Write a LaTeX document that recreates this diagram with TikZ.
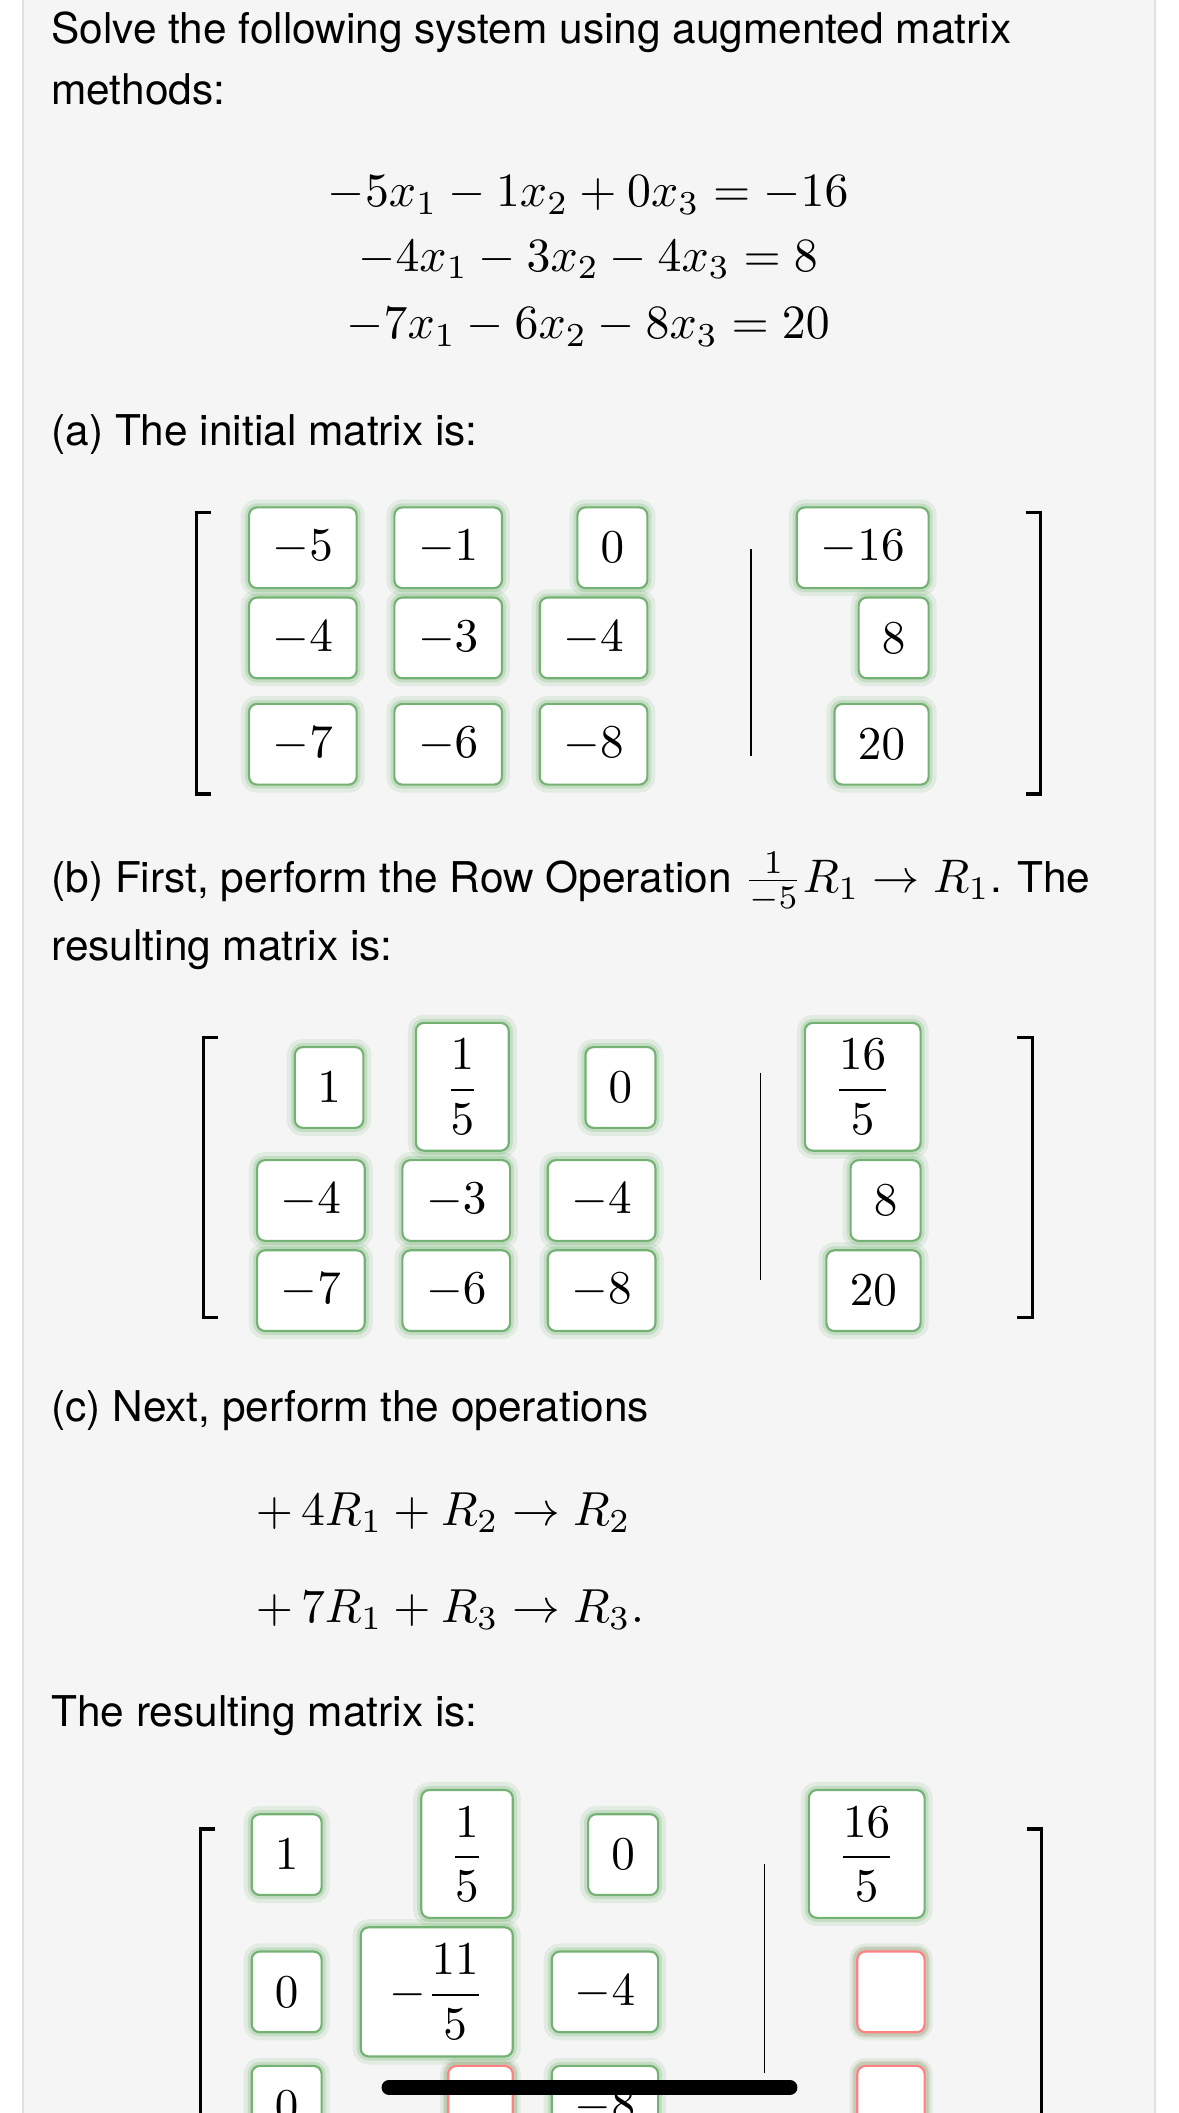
\documentclass[tikz,border=0pt]{standalone}
\usepackage{fontspec}
\setmainfont{TeX Gyre Heros}
\newcommand\Mth[2]{{\fontsize{10}{12}\selectfont\scalebox{#1}{$#2$}}}
\begin{document}
\begin{tikzpicture}[x=1pt,y=-1pt,
  txt/.style={anchor=base west,inner sep=0pt,font=\fontsize{31.5}{38}\selectfont},
  eq/.style={inner sep=0pt},
  cellg/.style={draw=green!45!black!55!white,line width=1.6pt,fill=white,rounded corners=6pt,inner sep=0pt,
    preaction={draw=green!50!black,draw opacity=0.08,line width=12pt},
    preaction={draw=green!50!black,draw opacity=0.12,line width=6pt}},
  cellr/.style={cellg,draw=red!50!white,
    preaction={draw=red!60!black,draw opacity=0.08,line width=8pt}},
  brk/.style={line width=2.5pt},
  bar/.style={line width=1pt}]
\useasboundingbox (0,0) rectangle (876,1570);
\fill[white] (0,0) rectangle (876,1570);
\fill[black!4] (17,0) rectangle (858,1570);
\draw[black!12,line width=1.5pt] (17,0) -- (17,1570) (858,0) -- (858,1570);
\newcommand\cellat[7]{\node[#6,minimum width={#4-#2},minimum height={#5-#3}] (#1) at ({(#2+#4)/2},{(#3+#5)/2}) {\Mth{3.5}{\displaystyle #7}};}
\node[txt] (t1) at (38,32) {Solve the following system using augmented matrix};
\node[txt] (t2) at (38,78) {methods:};
\node[eq] (e1) at (437,145) {\Mth{3.55}{-5x_1-1x_2+0x_3=-16}};
\node[eq] (e2) at (437,193) {\Mth{3.55}{-4x_1-3x_2-4x_3=8}};
\node[eq] (e3) at (437,243) {\Mth{3.55}{-7x_1-6x_2-8x_3=20}};
\node[txt] (ta) at (38,331) {(a) The initial matrix is:};
\draw[brk] (157,381) -- (146,381) -- (146,590) -- (157,590);
\draw[brk] (762,381) -- (773,381) -- (773,590) -- (762,590);
\cellat{a11}{185}{377}{265}{437}{cellg}{-5}
\cellat{a12}{293}{377}{373}{437}{cellg}{-1}
\cellat{a13}{429}{377}{481}{437}{cellg}{0}
\cellat{a14}{592}{377}{690}{437}{cellg}{-16}
\cellat{a21}{185}{444}{265}{504}{cellg}{-4}
\cellat{a22}{293}{444}{373}{504}{cellg}{-3}
\cellat{a23}{401}{444}{481}{504}{cellg}{-4}
\cellat{a24}{638}{444}{690}{504}{cellg}{8}
\cellat{a31}{185}{523}{265}{583}{cellg}{-7}
\cellat{a32}{293}{523}{373}{583}{cellg}{-6}
\cellat{a33}{401}{523}{481}{583}{cellg}{-8}
\cellat{a34}{620}{523}{690}{583}{cellg}{20}
\coordinate (va1) at (558,408); \coordinate (va2) at (558,562);
\draw[bar] (va1) -- (va2);
\node[txt] (tb) at (38,663) {(b) First, perform the Row Operation \Mth{3.5}{\frac{1}{-5}R_1\to R_1}. The};
\node[txt] (tb2) at (38,714) {resulting matrix is:};
\draw[brk] (162,771) -- (151,771) -- (151,979) -- (162,979);
\draw[brk] (756,771) -- (767,771) -- (767,979) -- (756,979);
\cellat{b11}{219}{778}{270}{838}{cellg}{1}
\cellat{b12}{309}{760}{378}{855}{cellg}{\frac{1}{5}}
\cellat{b13}{435}{778}{487}{838}{cellg}{0}
\cellat{b14}{598}{760}{684}{855}{cellg}{\frac{16}{5}}
\cellat{b21}{191}{862}{271}{922}{cellg}{-4}
\cellat{b22}{299}{862}{379}{922}{cellg}{-3}
\cellat{b23}{407}{862}{487}{922}{cellg}{-4}
\cellat{b24}{632}{862}{684}{922}{cellg}{8}
\cellat{b31}{191}{929}{271}{989}{cellg}{-7}
\cellat{b32}{299}{929}{379}{989}{cellg}{-6}
\cellat{b33}{407}{929}{487}{989}{cellg}{-8}
\cellat{b34}{614}{929}{684}{989}{cellg}{20}
\coordinate (vb1) at (565,797); \coordinate (vb2) at (565,951);
\draw[bar] (vb1) -- (vb2);
\node[txt] (tc) at (38,1056) {(c) Next, perform the operations};
\node[eq,anchor=west] (o1) at (190,1124) {\Mth{3.55}{+\,4R_1+R_2\to R_2}};
\node[eq,anchor=west] (o2) at (190,1196) {\Mth{3.55}{+\,7R_1+R_3\to R_3.}};
\node[txt] (tr) at (38,1283) {The resulting matrix is:};
\draw[brk] (160,1359) -- (149,1359) -- (149,1580) (763,1359) -- (774,1359) -- (774,1580);
\cellat{c11}{187}{1348}{239}{1408}{cellg}{1}
\cellat{c12}{313}{1330}{381}{1425}{cellg}{\frac{1}{5}}
\cellat{c13}{437}{1348}{489}{1408}{cellg}{0}
\cellat{c14}{601}{1330}{687}{1425}{cellg}{\frac{16}{5}}
\cellat{c21}{187}{1450}{239}{1510}{cellg}{0}
\cellat{c22}{268}{1432}{381}{1528}{cellg}{-\frac{11}{5}}
\cellat{c23}{410}{1450}{489}{1510}{cellg}{-4}
\cellat{c24}{637}{1450}{687}{1510}{cellr}{}
\cellat{c31}{187}{1535}{239}{1595}{cellg}{0}
\cellat{c32}{333}{1535}{381}{1595}{cellr}{}
\cellat{c33}{410}{1535}{489}{1595}{cellg}{-8}
\cellat{c34}{637}{1535}{687}{1595}{cellr}{}
\coordinate (vc1) at (568,1385); \coordinate (vc2) at (568,1540);
\draw[bar] (vc1) -- (vc2);
\coordinate (h1) at (289,1551); \coordinate (h2) at (587,1551);
\draw[line width=11pt,line cap=round] (h1) -- (h2);
\end{tikzpicture}
\end{document}
